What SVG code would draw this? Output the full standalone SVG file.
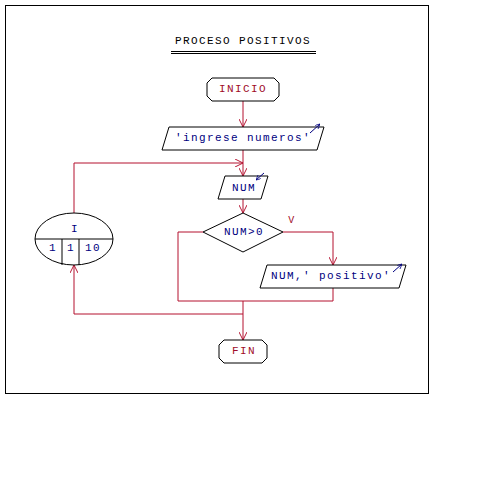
<svg xmlns="http://www.w3.org/2000/svg" width="500" height="500" viewBox="0 0 500 500">
<style>
.shape{fill:#fff;stroke:#000;stroke-width:1}
.ln{fill:none;stroke:#b4102e;stroke-width:1}
.t{font-family:"Liberation Mono","DejaVu Sans Mono",monospace;font-size:11px;letter-spacing:1.4px;text-anchor:middle;dominant-baseline:central}
.blue{fill:#000080}
.red{fill:#a00c28}
.sm{fill:none;stroke:#000080;stroke-width:1}
</style>
<defs>
<marker id="ah" viewBox="0 0 10 10" refX="10" refY="5" markerWidth="8" markerHeight="8" orient="auto" markerUnits="userSpaceOnUse">
<path d="M0,0 L10,5 L0,10" fill="none" stroke="#b4102e" stroke-width="1.2"/>
</marker>
<marker id="bh" viewBox="0 0 10 10" refX="10" refY="5" markerWidth="5" markerHeight="5" orient="auto" markerUnits="userSpaceOnUse">
<path d="M0,0 L10,5 L0,10" fill="none" stroke="#000080" stroke-width="1.5"/>
</marker>
</defs>
<rect width="500" height="500" fill="#fff"/>
<rect x="5.5" y="5.5" width="423" height="388" fill="none" stroke="#000" stroke-width="1"/>
<g id="title">
<text x="243" y="41" class="t" fill="#000">PROCESO POSITIVOS</text>
<line x1="171" y1="51.5" x2="316" y2="51.5" stroke="#000"/>
<line x1="171" y1="53.5" x2="316" y2="53.5" stroke="#000"/>
</g>
<g id="connectors">
<line x1="243" y1="101" x2="243" y2="127" class="ln" marker-end="url(#ah)"/>
<line x1="243" y1="150" x2="243" y2="176" class="ln" marker-end="url(#ah)"/>
<polyline points="74,213 74,163 243,163" class="ln" marker-end="url(#ah)"/>
<line x1="243" y1="199" x2="243" y2="213" class="ln" marker-end="url(#ah)"/>
<polyline points="283,232 333,232 333,265" class="ln" marker-end="url(#ah)"/>
<polyline points="333,288 333,301 178,301 178,232 203,232" class="ln"/>
<line x1="243" y1="301" x2="243" y2="340" class="ln" marker-end="url(#ah)"/>
<polyline points="243,314 74,314 74,265" class="ln" marker-end="url(#ah)"/>
</g>
<g id="inicio">
<polygon points="212,78 274,78 279,83 279,96 274,101 212,101 207,96 207,83" class="shape"/>
<text x="243" y="89" class="t red">INICIO</text>
</g>
<g id="ingrese">
<polygon points="169,127 324,127 317,150 162,150" class="shape"/>
<text x="243" y="138" class="t blue">'ingrese numeros'</text>
<line x1="310" y1="133" x2="320" y2="124" class="sm" marker-end="url(#bh)"/>
</g>
<g id="num">
<polygon points="225,176 268,176 261,199 218,199" class="shape"/>
<text x="244" y="188" class="t blue">NUM</text>
<line x1="264" y1="173" x2="256" y2="180" class="sm" marker-end="url(#bh)"/>
</g>
<g id="cond">
<polygon points="243,213 283,232 243,252 203,232" class="shape"/>
<text x="244" y="232" class="t blue">NUM&gt;0</text>
<text x="292" y="220" class="t red" style="font-size:10px">V</text>
</g>
<g id="positivo">
<polygon points="267,265 406,265 399,288 260,288" class="shape"/>
<text x="331" y="276" class="t blue">NUM,' positivo'</text>
<line x1="393" y1="272" x2="402" y2="264" class="sm" marker-end="url(#bh)"/>
</g>
<g id="loop">
<ellipse cx="74" cy="239" rx="39" ry="26" class="shape"/>
<line x1="35" y1="239" x2="113" y2="239" stroke="#000"/>
<line x1="62" y1="239" x2="62" y2="265" stroke="#000"/>
<line x1="79" y1="239" x2="79" y2="265" stroke="#000"/>
<text x="75" y="229" class="t blue">I</text>
<text x="53" y="248" class="t blue">1</text>
<text x="71" y="248" class="t blue">1</text>
<text x="93" y="248" class="t blue">10</text>
</g>
<g id="fin">
<polygon points="224,340 262,340 267,345 267,358 262,363 224,363 219,358 219,345" class="shape"/>
<text x="244" y="351" class="t red">FIN</text>
</g>
</svg>
